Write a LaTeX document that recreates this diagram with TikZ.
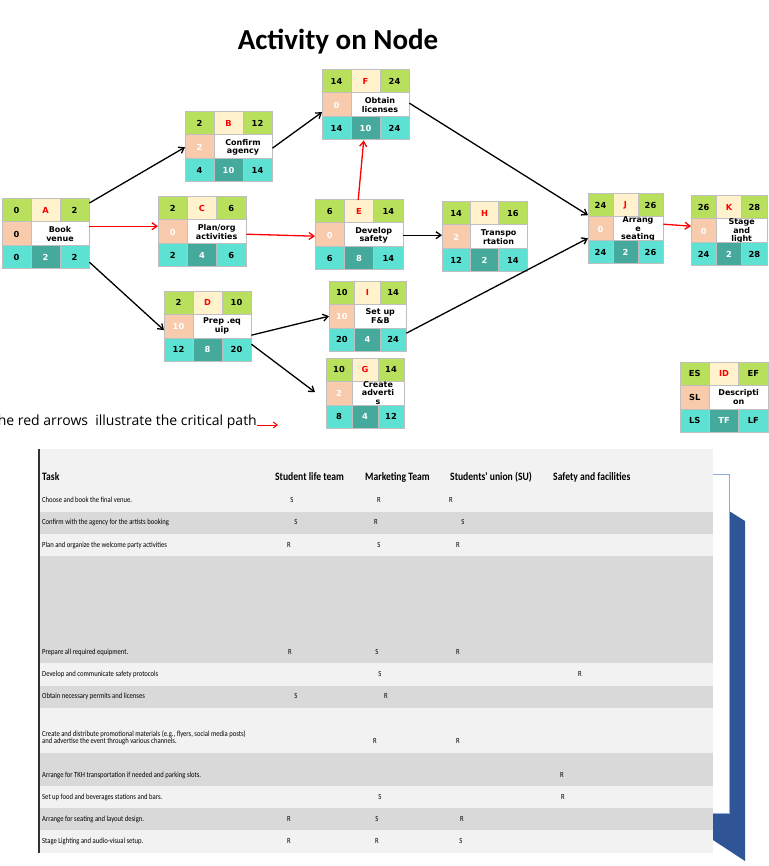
\documentclass[tikz,border=0pt]{standalone}
\usepackage{fontspec}
\usetikzlibrary{arrows.meta}
\setmainfont{DejaVu Sans}
\newfontfamily\titlefont{Carlito}
\newfontfamily\tabfont[FakeStretch=0.85]{Carlito}
\newfontfamily\notefont{Open Sans}
\definecolor{cgreen}{HTML}{B8E05C}
\definecolor{ccream}{HTML}{FFF2CC}
\definecolor{csalmon}{HTML}{F8CBAD}
\definecolor{ccyan}{HTML}{5CE1D3}
\definecolor{cteal}{HTML}{45A99C}
\definecolor{cborder}{HTML}{BFBFBF}
\definecolor{tlight}{HTML}{F2F2F2}
\definecolor{tdark}{HTML}{D9D9D9}
\definecolor{bdark}{HTML}{2F5597}
\definecolor{blight}{HTML}{8FAADC}
\tikzset{
  cell/.style={draw=cborder,line width=1pt},
  ctext/.style={font=\bfseries\fontsize{8.3}{9}\selectfont,inner sep=0pt},
  dtext/.style={font=\bfseries\fontsize{8}{8.3}\selectfont,align=center,inner sep=0pt},
  arr/.style={line width=1.3pt,-{Straight Barb[length=5pt,width=7pt]}},
  crit/.style={arr,red},
  ttext/.style={font=\tabfont\fontsize{7.8}{7.6}\selectfont,anchor=west,inner sep=0pt,align=left},
  thead/.style={font=\tabfont\bfseries\fontsize{11.3}{12}\selectfont,anchor=west,inner sep=0pt},
  tmark/.style={font=\tabfont\fontsize{7.8}{8}\selectfont,inner sep=0pt},
}
\newcommand\aonbox[4]{%
  \node[minimum width=#4pt,minimum height=70pt,anchor=north west,inner sep=0pt] (#1) at (#2,#3) {};
  \def\bx{#2}\def\by{#3}\pgfmathsetmacro\cw{#4/3}}
\newcommand\aonfill[9]{%
  \path[cell,fill=cgreen] (\bx,\by) rectangle ++(\cw,23) node[midway,ctext]{#1};
  \path[cell,fill=ccream] (\bx+\cw,\by) rectangle ++(\cw,23) node[midway,ctext,text=red]{#2};
  \path[cell,fill=cgreen] (\bx+2*\cw,\by) rectangle ++(\cw,23) node[midway,ctext]{#3};
  \path[cell,fill=csalmon] (\bx,\by+23) rectangle ++(\cw,24) node[midway,ctext,text=#9]{#4};
  \path[cell,fill=white] (\bx+\cw,\by+23) rectangle ++(2*\cw,24) node[midway,dtext]{#5};
  \path[cell,fill=ccyan] (\bx,\by+47) rectangle ++(\cw,23) node[midway,ctext]{#6};
  \path[cell,fill=cteal] (\bx+\cw,\by+47) rectangle ++(\cw,23) node[midway,ctext,text=white]{#7};
  \path[cell,fill=ccyan] (\bx+2*\cw,\by+47) rectangle ++(\cw,23) node[midway,ctext]{#8};}
\begin{document}
\begin{tikzpicture}[x=1pt,y=-1pt]
\useasboundingbox (0,0) rectangle (768,866);
\fill[white] (0,0) rectangle (768,866);
\node[font=\titlefont\bfseries\fontsize{29}{32}\selectfont] (title) at (338,42) {Activity on Node};

\aonbox{A}{2}{199}{87}\aonfill{0}{A}{2}{0}{Book\\venue}{0}{2}{2}{black}
\aonbox{B}{185}{112}{87}\aonfill{2}{B}{12}{2}{Confirm\\agency}{4}{10}{14}{white}
\aonbox{C}{158}{197}{88}\aonfill{2}{C}{6}{0}{Plan/org\\activities}{2}{4}{6}{white}
\aonbox{D}{164}{291}{87}\aonfill{2}{D}{10}{10}{Prep .eq\\uip}{12}{8}{20}{white}
\aonbox{E}{315}{200}{88}\aonfill{6}{E}{14}{0}{Develop\\safety}{6}{8}{14}{white}
\aonbox{F}{322}{70}{87}\aonfill{14}{F}{24}{0}{Obtain\\licenses}{14}{10}{24}{white}
\aonbox{H}{442}{202}{85}\aonfill{14}{H}{16}{2}{Transpo\\rtation}{12}{2}{14}{white}
\aonbox{I}{329}{281}{77}\aonfill{10}{I}{14}{10}{Set up\\F\&B}{20}{4}{24}{white}
\aonbox{G}{326}{358}{78}\aonfill{10}{G}{14}{2}{Create\\adverti\\s}{8}{4}{12}{white}
\aonbox{J}{588}{194}{75}\aonfill{24}{J}{26}{0}{Arrang\\e\\seating}{24}{2}{26}{white}
\aonbox{K}{691}{196}{76}\aonfill{26}{K}{28}{0}{Stage\\and\\light}{24}{2}{28}{white}
\aonbox{L}{680}{362}{88}\aonfill{ES}{ID}{EF}{SL}{Descripti\\on}{LS}{TF}{LF}{black}

\draw[arr] ([yshift=-4pt]A.north east) -- (B.west);
\draw[crit] ([yshift=8pt]A.east) -- ([yshift=6pt]C.west);
\draw[arr] ([yshift=-28pt]A.east) -- ([yshift=-4pt]D.west);
\draw[arr] ([yshift=-1pt]B.east) -- ([yshift=-7pt]F.west);
\draw[crit] ([yshift=-2pt]C.east) -- ([yshift=-1pt]E.west);
\draw[crit] ([xshift=-1pt]E.north) -- ([xshift=-2pt]F.south);
\draw[arr] (E.east) -- (E.east -| H.west);
\draw[arr] ([yshift=2pt]F.east) -- ([yshift=14pt]J.west);
\draw[arr] ([yshift=-9pt]D.east) -- (I.west);
\draw[arr] ([yshift=-18pt]D.east) -- ([xshift=-11pt,yshift=1pt]G.west);
\draw[arr] ([yshift=-17pt]I.east) -- ([yshift=-9pt]J.west);
\draw[crit] ([yshift=5pt]J.east) -- ([yshift=5pt]K.west);

\node[font=\notefont\fontsize{14}{16}\selectfont,anchor=east,inner sep=0pt] (note) at (257,422) {The red arrows\ \ illustrate the critical path};
\coordinate (noteend) at (278,425);
\draw[red,line width=1pt,-{Straight Barb[length=4pt,width=6pt]}] ([yshift=-3pt]note.east) -- (noteend);

% table
\fill[bdark] (729,511) -- (745,521) -- (745,861) -- (713,840) -- (713,813) -- (729,813) -- cycle;
\fill[tlight] (38,449) rectangle (713,853);
\foreach \a/\b in {512/534,556/663,686/708,753/786,808/830} \fill[tdark] (38,\a) rectangle (713,\b);
\draw[blight,line width=0.8pt] (713,474) -- (729,474) -- (729,813) -- (713,813);
\draw[black!80,line width=1.2pt] (39,449) -- (39,853);

\node[thead] (h0) at (42,477) {Task};
\node[thead] (h1) at (275,477) {Student life team};
\node[thead] (h2) at (365,477) {Marketing Team};
\node[thead] (h3) at (450,477) {Students' union (SU)};
\node[thead] (h4) at (553,477) {Safety and facilities};

\node[ttext] (t1) at (42,500) {Choose and book the final venue.};
\node[ttext] (t2) at (42,522) {Confirm with the agency for the artists booking};
\node[ttext] (t3) at (42,545) {Plan and organize the welcome party activities};
\node[ttext] (t4) at (42,652) {Prepare all required equipment.};
\node[ttext] (t5) at (42,674) {Develop and communicate safety protocols};
\node[ttext] (t6) at (42,696) {Obtain necessary permits and licenses};
\node[ttext] (t7) at (42,738) {Create and distribute promotional materials (e.g., flyers, social media posts)\\and advertise the event through various channels.};
\node[ttext] (t8) at (42,775) {Arrange for TKH transportation if needed and parking slots.};
\node[ttext] (t9) at (42,797) {Set up food and beverages stations and bars.};
\node[ttext] (t10) at (42,819) {Arrange for seating and layout design.};
\node[ttext] (t11) at (42,841) {Stage Lighting and audio-visual setup.};

\foreach \x/\y/\m [count=\i] in {292/500/S,379/500/R,451/500/R,
  296/522/S,376/522/R,463/522/S,
  289/545/R,379/545/S,458/545/R,
  290/652/R,377/652/S,458/652/R,
  380/674/S,580/674/R,
  296/696/S,386/696/R,
  375/741/R,458/741/R,
  562/775/R,
  380/797/S,563/797/R,
  289/819/R,377/819/S,462/819/R,
  289/841/R,377/841/R,461/841/S}
  \node[tmark] (m\i) at (\x,\y) {\m};
\end{tikzpicture}
\end{document}
